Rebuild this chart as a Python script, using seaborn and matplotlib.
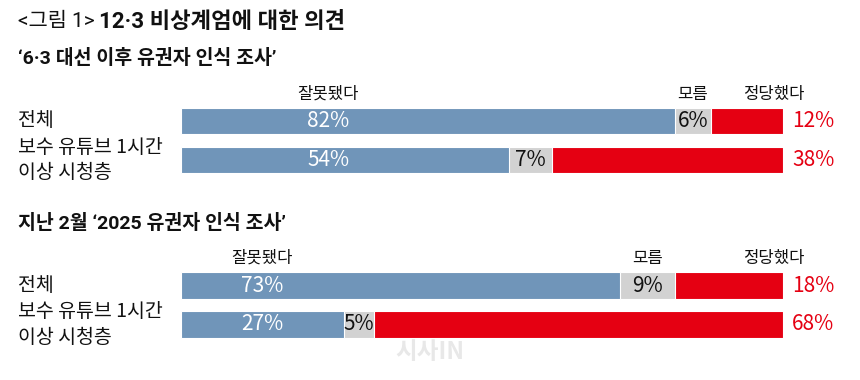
import pandas as pd
import seaborn as sns
import matplotlib.pyplot as plt
from matplotlib.transforms import blended_transform_factory

# data
panel_titles = ["‘6·3 대선 이후 유권자 인식 조사’", "지난 2월 ‘2025 유권자 인식 조사’"]
groups = ["전체", "보수 유튜브 1시간\n이상 시청층"]
wrong = [[82, 54], [73, 27]]      # 잘못됐다
unknown = [[6, 7], [9, 5]]        # 모름
justified = [[12, 38], [18, 68]]  # 정당했다
series_names = ["잘못됐다", "모름", "정당했다"]

BLUE = "#7095b9"
GRAY = "#d2d2d2"
RED = "#e50012"
W, H = 860, 380

sns.set_theme(style="white")
plt.rcParams['font.family'] = ['Noto Sans CJK KR', 'DejaVu Sans']
BOLD_FAMILY = ['Roboto', 'Noto Sans CJK KR', 'DejaVu Sans']

fig = plt.figure(figsize=(W / 100, H / 100), dpi=100)
fig.patch.set_facecolor("white")


def px_axes(x0, y0, x1, y1):
    return fig.add_axes([x0 / W, 1 - y1 / H, (x1 - x0) / W, (y1 - y0) / H])


# title
fig.text(18 / W, 1 - 22 / H, "<그림 1>", fontsize=15, va="center", ha="left", color="#111111",
         family=['Roboto', 'Noto Sans CJK KR'])
fig.text(99 / W, 1 - 22 / H, "12·3 비상계엄에 대한 의견", fontsize=16, fontweight="bold",
         va="center", ha="left", color="#111111", family=BOLD_FAMILY)

panel_tops = [101.5, 266]
title_y = [59, 224]
blue_label_x = [24.5, 13.5]

for p in range(2):
    df = pd.DataFrame({"group": groups, "wrong": wrong[p], "unknown": unknown[p],
                       "justified": justified[p]})
    tot = df[["wrong", "unknown", "justified"]].sum(axis=1)
    df["c1"] = df["wrong"] / tot * 100
    df["c2"] = (df["wrong"] + df["unknown"]) / tot * 100
    df["c3"] = 100.0

    fig.text(18 / W, 1 - title_y[p] / H, panel_titles[p], fontsize=14, fontweight="bold",
             va="center", ha="left", color="#111111", family=BOLD_FAMILY)

    ax = px_axes(181, panel_tops[p], 783, panel_tops[p] + 78)
    for col, color in [("c3", RED), ("c2", GRAY), ("c1", BLUE)]:
        sns.barplot(data=df, x=col, y="group", orient="h", color=color, width=0.667,
                    edgecolor="white", linewidth=0.8, saturation=1, ax=ax)
    ax.set_xlim(0, 100)
    ax.set_ylim(1.5, -0.5)
    ax.axis("off")

    trans = blended_transform_factory(fig.transFigure, ax.transData)
    for i, g in enumerate(groups):
        ax.text(18 / W, i, g, transform=trans, fontsize=14, va="center", ha="left",
                color="#111111", linespacing=1.3)
        ax.text(blue_label_x[p], i, f"{df['wrong'][i]}%", fontsize=15, color="white",
                va="center", ha="center")
        ax.text((df["c1"][i] + df["c2"][i]) / 2, i, f"{df['unknown'][i]}%", fontsize=15,
                color="#111111", va="center", ha="center")
        ax.text(101.5, i, f"{df['justified'][i]}%", fontsize=15, color=RED,
                va="center", ha="left", clip_on=False)

    hy = -0.69
    ax.text(blue_label_x[p], hy, series_names[0], fontsize=12, ha="center", va="center",
            color="#111111", clip_on=False)
    ax.text((df["c1"][0] + df["c2"][0]) / 2, hy, series_names[1], fontsize=12, ha="center",
            va="center", color="#111111", clip_on=False)
    ax.text(98.5, hy, series_names[2], fontsize=12, ha="center", va="center",
            color="#111111", clip_on=False)

fig.text(430 / W, 1 - 352 / H, "시사IN", fontsize=17, fontweight="bold", ha="center",
         va="center", color="#e8e8e8")

fig.savefig("out.png", dpi=100, facecolor="white")
